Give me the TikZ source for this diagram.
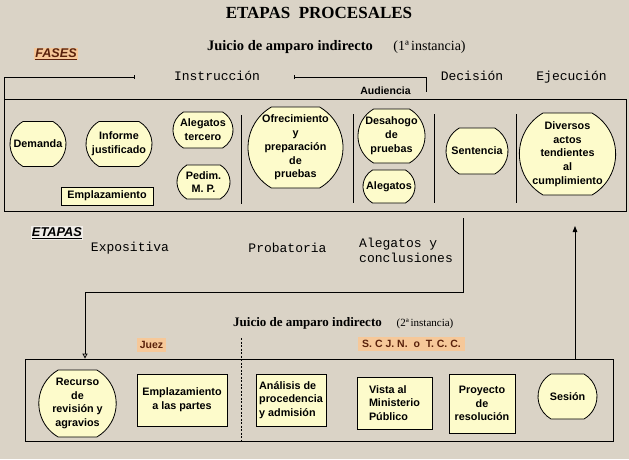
\documentclass[tikz,border=0pt]{standalone}
\usepackage{fontspec}
\setmainfont{Liberation Sans}
\newfontfamily\monof{Liberation Mono}
\newfontfamily\seriff{Liberation Serif}
\usetikzlibrary{shapes.misc,arrows.meta}
\definecolor{paper}{HTML}{DAD3C6}
\definecolor{nodefill}{HTML}{FDFBCB}
\definecolor{peach}{HTML}{F6C899}
\definecolor{brownt}{HTML}{5A220C}
\tikzset{
  rr/.style={rounded rectangle, rounded rectangle arc length=120, draw=black, line width=0.8pt,
    fill=nodefill, inner sep=0pt, align=center, font=\bfseries\fontsize{10.8}{13.8}\selectfont},
  rbox/.style={rectangle, draw=black, line width=0.8pt, fill=nodefill, inner sep=0pt,
    align=center, font=\bfseries\fontsize{10.8}{13.8}\selectfont},
  frame/.style={rectangle, draw=black, line width=0.8pt, inner sep=0pt},
  monolab/.style={font=\monof\fontsize{13}{15}\selectfont, inner sep=0pt, text height=7pt, text depth=1pt},
  sep/.style={line width=0.8pt},
  conn/.style={line width=0.8pt},
}
\begin{document}
\begin{tikzpicture}[x=1pt,y=-1pt]
\fill[paper] (0,0) rectangle (629,459);
\useasboundingbox (0,0) rectangle (629,459);

% titles
\node[font=\seriff\bfseries\fontsize{17}{19}\selectfont, inner sep=0pt] (title) at (319,13) {ETAPAS\ \ PROCESALES};
\node[font=\bfseries\itshape\fontsize{12.6}{14}\selectfont, text=brownt, fill=peach, inner sep=1pt] (fases) at (56,54) {\underline{FASES}};
\node[font=\seriff\bfseries\fontsize{14.5}{16}\selectfont, inner sep=0pt] (juicio1) at (290,47) {Juicio de amparo indirecto};
\node[font=\seriff\fontsize{14}{16}\selectfont, inner sep=0pt] (inst1) at (429.5,47) {(1ª\,instancia)};

\node[monolab] (instr) at (217,77) {Instrucción};
\node[monolab] (decis) at (472,77) {Decisión};
\node[monolab] (ejec) at (571.5,77) {Ejecución};
\node[font=\bfseries\fontsize{10.5}{12}\selectfont, inner sep=0pt] (aud) at (385.5,91) {Audiencia};

% top frame
\node[frame, minimum width=622, minimum height=112] (topbox) at (315,155) {};
\coordinate (tl) at (4,99);
\coordinate (tlend) at (135,77);
\coordinate (trstart) at (294,77);
\coordinate (trend) at (426,92);
\draw[conn, -{Bar[width=4pt]}] (tl) |- (tlend);
\draw[conn, {Bar[width=4pt]}-] (trstart) -| (trend);

% separators
\draw[sep] (241,115) -- (241,204);
\draw[sep] (353,114) -- (353,203);
\draw[sep] (434,114) -- (434,203);
\draw[sep] (516,114) -- (516,203);

% top nodes
\node[rr, minimum width=56, minimum height=45] (demanda) at (38,144) {Demanda};
\node[rr, minimum width=66, minimum height=45] (informe) at (119,144) {Informe\\justificado};
\node[rr, minimum width=60, minimum height=36] (alegter) at (203,130) {Alegatos\\tercero};
\node[rr, minimum width=53, minimum height=34] (pedim) at (203.5,182) {Pedim.\\M. P.};
\node[rbox, minimum width=92, minimum height=18] (emplaz) at (107,196) {Emplazamiento};
\node[rr, minimum width=95, minimum height=81] (ofrec) at (295.5,147.5) {Ofrecimiento\\y\\preparación\\de\\pruebas};
\node[rr, minimum width=67, minimum height=54] (desah) at (391.5,136) {Desahogo\\de\\pruebas};
\node[rr, minimum width=52, minimum height=33] (alegatos) at (389,186.5) {Alegatos};
\node[rr, minimum width=62, minimum height=46] (sentencia) at (477,151) {Sentencia};
\node[rr, minimum width=91, minimum height=82] (diversos) at (567.5,154) {Diversos\\actos\\tendientes\\al\\cumplimiento};

% etapas
\node[font=\bfseries\itshape\fontsize{12.8}{14}\selectfont, fill=white!60!paper, inner sep=1pt] (etapas) at (57,233) {\underline{ETAPAS}};
\node[monolab] (expos) at (130,248) {Expositiva};
\node[monolab] (probat) at (287.5,249) {Probatoria};
\node[font=\monof\fontsize{13}{15}\selectfont, inner sep=0pt, anchor=west, align=left] (alegc) at (359,250.5) {Alegatos y\\conclusiones};

% second instance
\node[font=\seriff\bfseries\fontsize{13}{15}\selectfont, inner sep=0pt] (juicio2) at (307.5,323) {Juicio de amparo indirecto};
\node[font=\seriff\fontsize{11}{13}\selectfont, inner sep=0pt] (inst2) at (425,324) {(2ª\,instancia)};
\node[font=\bfseries\fontsize{10.5}{12}\selectfont, text=brownt, fill=peach, minimum width=29, minimum height=14, inner sep=0pt] (juez) at (151.5,345) {Juez};
\node[font=\bfseries\fontsize{10.5}{12}\selectfont, text=brownt, fill=peach, minimum width=107, minimum height=14, inner sep=0pt] (scjn) at (411.5,344) {S. C J. N.\ \ o\ \ T. C. C.};

% bottom frame
\node[frame, minimum width=588, minimum height=82] (botbox) at (319,400) {};
\draw[line width=0.8pt, dash pattern=on 2pt off 1.5pt] (241,338) -- (241,441);

% connectors
\coordinate (c1) at (463,218);
\coordinate (c2) at (85,292);
\draw[conn, -{Triangle[open, length=5pt, width=5pt]}] (c1) |- (c2) -- (c2 |- botbox.north);
\coordinate (c3) at (575,226);
\draw[conn, -{Triangle[length=6pt, width=4.5pt]}] (botbox.north -| c3) -- (c3);

% bottom nodes
\node[rr, minimum width=77, minimum height=67] (recurso) at (77.5,403.5) {Recurso\\de\\revisión y\\agravios};
\node[rbox, minimum width=90, minimum height=52] (emplpartes) at (182,400) {Emplazamiento\\a las partes};
\node[rbox, minimum width=70, minimum height=52, align=left] (analisis) at (291,400) {Análisis de\\procedencia\\y admisión};
\node[rbox, minimum width=75, minimum height=52, align=left] (vista) at (394.5,403) {Vista al\\Ministerio\\Público};
\node[rbox, minimum width=66, minimum height=59] (proyecto) at (482,403.5) {Proyecto\\de\\resolución};
\node[rr, minimum width=59, minimum height=45] (sesion) at (567.5,396.5) {Sesión};
\end{tikzpicture}
\end{document}
